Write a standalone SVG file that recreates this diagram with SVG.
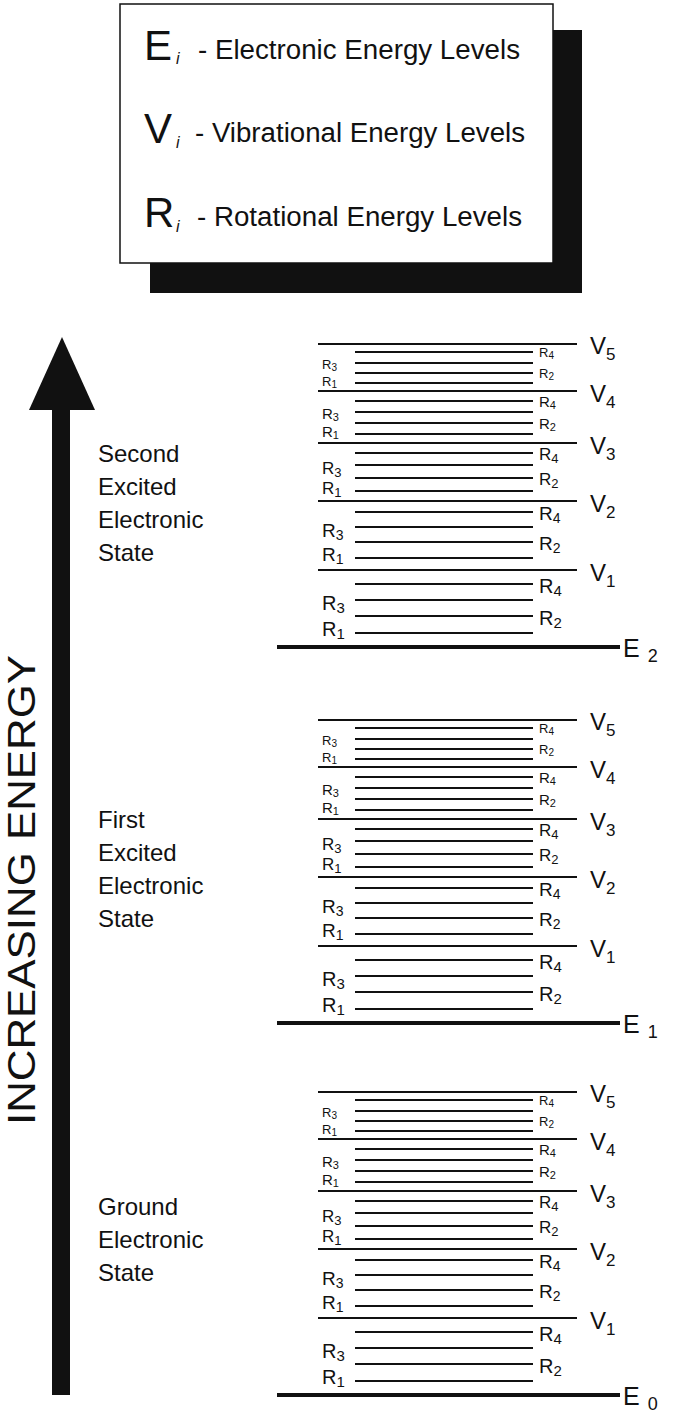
<svg xmlns="http://www.w3.org/2000/svg" xmlns:xlink="http://www.w3.org/1999/xlink" width="685" height="1417" viewBox="0 0 685 1417">
<style>
text{font-family:"Liberation Sans",Arial,sans-serif;fill:#111}
.v{stroke:#111;stroke-width:2}
.r{stroke:#111;stroke-width:2}
.e{stroke:#111;stroke-width:4}
.lab{font-size:24px}
</style>
<defs>
<g id="stack">
<line class="e" x1="277" y1="647" x2="620" y2="647"/>
<line class="v" x1="318" y1="344" x2="577" y2="344"/>
<line class="v" x1="318" y1="391" x2="577" y2="391"/>
<line class="v" x1="318" y1="443" x2="577" y2="443"/>
<line class="v" x1="318" y1="501" x2="577" y2="501"/>
<line class="v" x1="318" y1="570" x2="577" y2="570"/>
<g class="r">
<line x1="355" y1="352" x2="533" y2="352"/><line x1="355" y1="363" x2="533" y2="363"/><line x1="355" y1="373" x2="533" y2="373"/><line x1="355" y1="383" x2="533" y2="383"/>
<line x1="355" y1="401" x2="533" y2="401"/><line x1="355" y1="412" x2="533" y2="412"/><line x1="355" y1="423" x2="533" y2="423"/><line x1="355" y1="434" x2="533" y2="434"/>
<line x1="355" y1="453" x2="533" y2="453"/><line x1="355" y1="465" x2="533" y2="465"/><line x1="355" y1="478" x2="533" y2="478"/><line x1="355" y1="491" x2="533" y2="491"/>
<line x1="355" y1="512" x2="533" y2="512"/><line x1="355" y1="527" x2="533" y2="527"/><line x1="355" y1="542" x2="533" y2="542"/><line x1="355" y1="558" x2="533" y2="558"/>
<line x1="355" y1="584" x2="533" y2="584"/><line x1="355" y1="600" x2="533" y2="600"/><line x1="355" y1="616" x2="533" y2="616"/><line x1="355" y1="633" x2="533" y2="633"/>
</g>
<g font-size="13">
<text x="539" y="357">R<tspan font-size="10" dy="2">4</tspan></text><text x="539" y="378">R<tspan font-size="10" dy="2">2</tspan></text>
<text x="322" y="369">R<tspan font-size="10" dy="2">3</tspan></text><text x="322" y="386">R<tspan font-size="10" dy="2">1</tspan></text>
</g>
<g font-size="15">
<text x="539" y="407">R<tspan font-size="11" dy="2">4</tspan></text><text x="539" y="429">R<tspan font-size="11" dy="2">2</tspan></text>
<text x="322" y="419">R<tspan font-size="11" dy="2">3</tspan></text><text x="322" y="437">R<tspan font-size="11" dy="2">1</tspan></text>
</g>
<g font-size="17">
<text x="539" y="460">R<tspan font-size="13" dy="3">4</tspan></text><text x="539" y="485">R<tspan font-size="13" dy="3">2</tspan></text>
<text x="322" y="474">R<tspan font-size="13" dy="3">3</tspan></text><text x="322" y="494">R<tspan font-size="13" dy="3">1</tspan></text>
</g>
<g font-size="19">
<text x="539" y="520">R<tspan font-size="14" dy="3">4</tspan></text><text x="539" y="550">R<tspan font-size="14" dy="3">2</tspan></text>
<text x="322" y="537">R<tspan font-size="14" dy="3">3</tspan></text><text x="322" y="561">R<tspan font-size="14" dy="3">1</tspan></text>
</g>
<g font-size="20">
<text x="539" y="593">R<tspan font-size="15" dy="3">4</tspan></text><text x="539" y="625">R<tspan font-size="15" dy="3">2</tspan></text>
<text x="322" y="610">R<tspan font-size="15" dy="3">3</tspan></text><text x="322" y="636">R<tspan font-size="15" dy="3">1</tspan></text>
</g>
<g font-size="24">
<text x="590" y="354">V<tspan font-size="17" dy="6">5</tspan></text>
<text x="590" y="402">V<tspan font-size="17" dy="6">4</tspan></text>
<text x="590" y="454">V<tspan font-size="17" dy="6">3</tspan></text>
<text x="590" y="512">V<tspan font-size="17" dy="6">2</tspan></text>
<text x="590" y="581">V<tspan font-size="17" dy="6">1</tspan></text>
</g>
</g>
</defs>

<g id="legend">
<rect x="150" y="30" width="432" height="263" fill="#111"/>
<rect x="120" y="4" width="433" height="259" fill="#fff" stroke="#111" stroke-width="1.5"/>
<text x="144" y="60" font-size="42">E</text><text x="176" y="64" font-size="16" font-style="italic">i</text>
<text x="198" y="59" font-size="27" textLength="322" lengthAdjust="spacingAndGlyphs">- Electronic Energy Levels</text>
<text x="144" y="143" font-size="42">V</text><text x="176" y="148" font-size="16" font-style="italic">i</text>
<text x="195" y="142" font-size="27" textLength="330" lengthAdjust="spacingAndGlyphs">- Vibrational Energy Levels</text>
<text x="144" y="227" font-size="42">R</text><text x="176" y="232" font-size="16" font-style="italic">i</text>
<text x="197" y="226" font-size="27" textLength="325" lengthAdjust="spacingAndGlyphs">- Rotational Energy Levels</text>
</g>

<g id="arrow">
<rect x="52" y="405" width="18" height="990" fill="#111"/>
<polygon points="62,337 29,410 95,410" fill="#111"/>
<text transform="translate(35,1125) rotate(-90)" font-size="39" textLength="470" lengthAdjust="spacingAndGlyphs">INCREASING ENERGY</text>
</g>

<g id="state2">
<use xlink:href="#stack"/>
<text x="623" y="657" font-size="25">E<tspan dx="8" dy="5" font-size="18">2</tspan></text>
<g class="lab"><text x="98" y="462">Second</text><text x="98" y="495">Excited</text><text x="98" y="528">Electronic</text><text x="98" y="561">State</text></g>
</g>
<g id="state1">
<use xlink:href="#stack" transform="translate(0,376)"/>
<text x="623" y="1033" font-size="25">E<tspan dx="8" dy="5" font-size="18">1</tspan></text>
<g class="lab"><text x="98" y="828">First</text><text x="98" y="861">Excited</text><text x="98" y="894">Electronic</text><text x="98" y="927">State</text></g>
</g>
<g id="state0">
<use xlink:href="#stack" transform="translate(0,748)"/>
<text x="623" y="1405" font-size="25">E<tspan dx="8" dy="5" font-size="18">0</tspan></text>
<g class="lab"><text x="98" y="1215">Ground</text><text x="98" y="1248">Electronic</text><text x="98" y="1281">State</text></g>
</g>
</svg>
